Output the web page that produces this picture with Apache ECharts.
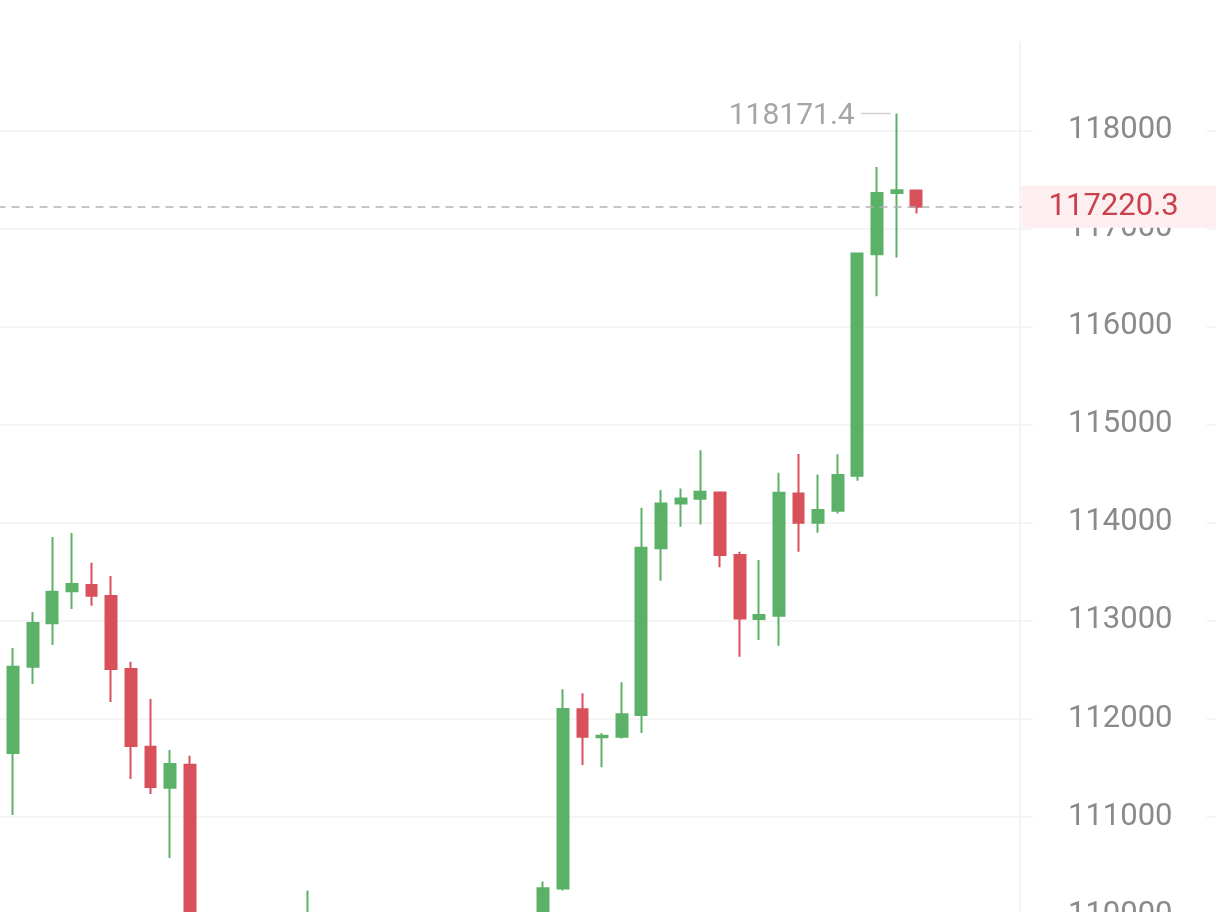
<!DOCTYPE html>
<html>
<head>
<meta charset="utf-8">
<script src="https://cdn.jsdelivr.net/npm/echarts@6/dist/echarts.min.js"></script>
<style>
  html, body { margin: 0; padding: 0; background: #ffffff; }
  #chart { width: 1216px; height: 912px; }
</style>
</head>
<body>
<div id="chart"></div>
<script>
// ---- Data ----
const opens  = [111650,111652,112530,112975,113300,113364,113252,112508,111716,111298,
                111533,109700,109400,109100,109300,108900,109200,109600,109300,109500,
                109200,109400,109100,109300,109000,109400,109200,109500,109700,110269,
                112097,111812,111818,112039,113738,114196,114243,114308,113669,113017,
                113051,114298,113999,114121,114478,116736,117361,117385];
const closes = [111950,112531,112977,113295,113374,113255,112508,111723,111305,111540,
                109700,109400,109100,109300,108900,109200,109600,109300,109500,109200,
                109400,109100,109300,109000,109400,109200,109500,109700,110273,112100,
                111818,111828,112046,113744,114196,114247,114314,113669,113024,113058,
                114304,113999,114128,114485,116744,117361,117389,117220.3];
const lows   = [111550,111020,112355,112752,113119,113153,112172,111387,111234,110582,
                109550,109200,108900,108800,108700,108600,109000,109100,109000,108900,
                109000,108800,108900,108700,108800,108900,109000,109300,109500,110249,
                111530,111506,111800,111856,113408,113958,113982,113544,112633,112803,
                112745,113703,113897,114094,114427,116309,116703,117151];
const highs  = [112050,112722,113089,113853,113894,113591,113455,112582,112202,111682,
                111624,109900,109750,109600,109500,109700,110249,109900,109800,109800,
                109700,109600,109700,109500,109600,109800,109900,109950,110341,112301,
                112260,111853,112372,114151,114332,114349,114739,114315,113703,113618,
                114508,114699,114492,114696,116750,117626,118171.4,117390];
const categories = opens.map((_, i) => 'K' + i);
const emptySlots = 15;               // blank space right of the last candle
const yTickMin = 110000, yTickMax = 118900, yTickStep = 1000;

// ---- Build options ----
const xData = categories.concat(Array.from({length: emptySlots}, (_, i) => 'E' + i));
const ohlc = opens.map((o, i) => [o, closes[i], lows[i], highs[i]]);
const lastClose = closes[closes.length - 1];

const UP = '#5bb167', DOWN = '#d8505a';
const FONT = 'Roboto';

const chart = echarts.init(document.getElementById('chart'), null, {renderer: 'canvas'});
chart.setOption({
  animation: false,
  backgroundColor: '#ffffff',
  grid: { left: -16.46, right: -4.7, top: 42, bottom: -3, containLabel: false, outerBoundsMode: 'none' },
  xAxis: {
    type: 'category', data: xData, boundaryGap: true,
    axisLine: {show: false}, axisTick: {show: false}, axisLabel: {show: false},
    splitLine: {show: false}
  },
  yAxis: [
    {
      type: 'value', position: 'right', min: yTickMin, max: yTickMax, interval: yTickStep,
      axisLine: {show: false}, axisTick: {show: false}, axisLabel: {show: false},
      splitLine: {show: true, showMaxLine: false, lineStyle: {color: '#f2f2f2', width: 1.5}},
      z: 0
    },
    {
      type: 'value', position: 'right', min: yTickMin, max: yTickMax, interval: yTickStep,
      offset: -200.7,
      axisLine: {show: true, lineStyle: {color: '#f0f0f0', width: 1.5}},
      axisTick: {show: false},
      splitLine: {show: false},
      axisLabel: {
        show: true, inside: false, margin: 13, align: 'left',
        showMaxLabel: false,
        color: '#8a8a8a', fontSize: 31, fontFamily: FONT,
        backgroundColor: '#ffffff', padding: [11, 34, 1, 35],
        formatter: v => String(v)
      },
      z: 1
    }
  ],
  series: [{
    type: 'candlestick',
    yAxisIndex: 0,
    data: ohlc,
    barWidth: '58%',
    itemStyle: { color: UP, color0: DOWN, borderColor: UP, borderColor0: DOWN, borderWidth: 2 },
    markPoint: {
      silent: true,
      symbol: 'rect', symbolSize: [30, 1.5], symbolOffset: [-21, 0],
      itemStyle: {color: '#cfcfcf'},
      label: {
        show: true, position: 'left', distance: 6, offset: [0, 3],
        color: '#a5a5a5', fontSize: 30, fontFamily: FONT,
        formatter: p => String(p.value)
      },
      data: [{type: 'max', valueDim: 'highest'}]
    },
    markLine: {
      silent: true, symbol: ['none', 'none'], precision: 1,
      lineStyle: {color: '#b3b3b3', type: [8, 6], width: 1.5},
      label: {
        show: true, position: 'insideEndTop', distance: [0, 0],
        verticalAlign: 'middle',
        color: '#c9414c', fontSize: 31, fontFamily: FONT,
        backgroundColor: '#fdeeef', padding: [2, 42, 0, 27], lineHeight: 40,
        formatter: () => String(lastClose)
      },
      data: [{yAxis: lastClose}]
    }
  }]
});
</script>
</body>
</html>
